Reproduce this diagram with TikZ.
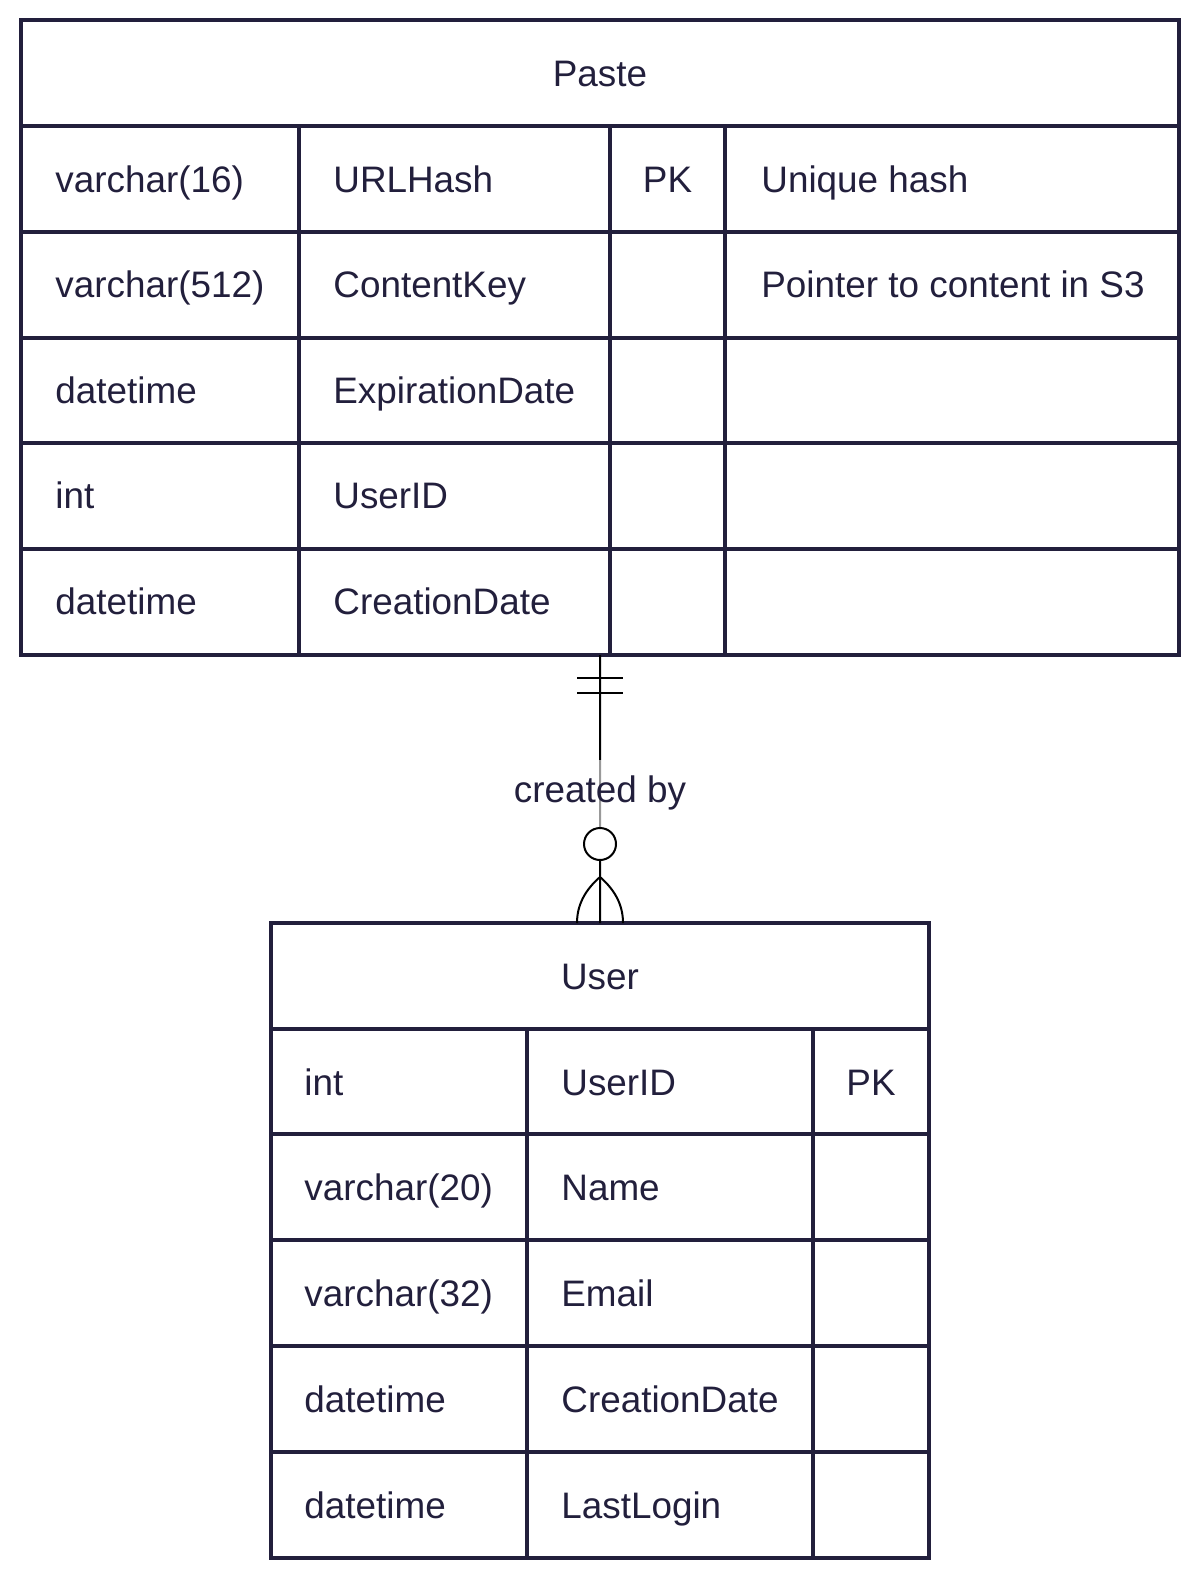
\documentclass[tikz,border=0pt]{standalone}
\usepackage{fontspec}
\setmainfont{Liberation Sans}
\usepackage{xcolor}
\usepackage{tikz}
\usetikzlibrary{calc}

\definecolor{ink}{HTML}{221F3C}

\begin{document}
\begin{tikzpicture}[
    x=0.5bp, y=-0.5bp,
    frame/.style={draw=ink, line width=2bp, outer sep=0pt, inner sep=0pt, anchor=north west},
    tabline/.style={draw=ink, line width=2bp},
    cell/.style={anchor=base west, inner sep=0pt, text=ink, font=\fontsize{18.5}{22}\selectfont},
    mid/.style={cell, anchor=base},
    rel/.style={draw=black, line width=1bp},
    rellabel/.style={fill=white, fill opacity=0.6, text opacity=1, text=ink, inner xsep=1bp, inner ysep=0pt,
        minimum height=33.5bp, font=\fontsize{18.5}{22}\selectfont}
]
\useasboundingbox (0,0) rectangle (1200,1580);

% Paste table
\node[frame, minimum width=579bp, minimum height=317.5bp] (paste) at (21,20) {};
\foreach \y in {126,232,338,443,549}
    \draw[tabline] (21,\y) -- (1179,\y);
\foreach \x in {299,610,725}
    \draw[tabline] (\x,126) -- (\x,655);

\node[mid] (pasteTitle) at (600,86) {Paste};
\node[cell] (p1a) at (55,192) {varchar(16)};
\node[cell] (p1b) at (333,192) {URLHash};
\node[mid] (p1c) at (667.5,192) {PK};
\node[cell] (p1d) at (761,192) {Unique hash};
\node[cell] (p2a) at (55,297) {varchar(512)};
\node[cell] (p2b) at (333,297) {ContentKey};
\node[cell] (p2d) at (761,297) {Pointer to content in S3};
\node[cell] (p3a) at (55,403) {datetime};
\node[cell] (p3b) at (333,403) {ExpirationDate};
\node[cell] (p4a) at (55,508) {int};
\node[cell] (p4b) at (333,508) {UserID};
\node[cell] (p5a) at (55,614) {datetime};
\node[cell] (p5b) at (333,614) {CreationDate};

% User table
\node[frame, minimum width=329bp, minimum height=317.5bp] (user) at (271,923) {};
\foreach \y in {1029,1134,1240,1346,1452}
    \draw[tabline] (271,\y) -- (929,\y);
\foreach \x in {527,813}
    \draw[tabline] (\x,1029) -- (\x,1558);

\node[mid] (userTitle) at (600,989) {User};
\node[cell] (u1a) at (304,1095) {int};
\node[cell] (u1b) at (561,1095) {UserID};
\node[mid] (u1c) at (871,1095) {PK};
\node[cell] (u2a) at (304,1200) {varchar(20)};
\node[cell] (u2b) at (561,1200) {Name};
\node[cell] (u3a) at (304,1306) {varchar(32)};
\node[cell] (u3b) at (561,1306) {Email};
\node[cell] (u4a) at (304,1412) {datetime};
\node[cell] (u4b) at (561,1412) {CreationDate};
\node[cell] (u5a) at (304,1518) {datetime};
\node[cell] (u5b) at (561,1518) {LastLogin};

% Relationship: exactly one -- zero or many
\draw[rel] (paste.south) -- node[rellabel, pos=0.515] (createdBy) {created by} (user.north);
\draw[rel] ($(paste.south)+(-23,23)$) -- ++(46,0);
\draw[rel] ($(paste.south)+(-23,38)$) -- ++(46,0);
\node[circle, draw=black, line width=1bp, fill=white, minimum size=16bp, inner sep=0pt] (zeroMark) at ($(user.north)+(0,-79)$) {};
\draw[rel] ($(user.north)+(0,-46)$) .. controls +(-15,13) and +(0,-18) .. ($(user.north)+(-23,0)$);
\draw[rel] ($(user.north)+(0,-46)$) .. controls +(15,13) and +(0,-18) .. ($(user.north)+(23,0)$);

\end{tikzpicture}
\end{document}
